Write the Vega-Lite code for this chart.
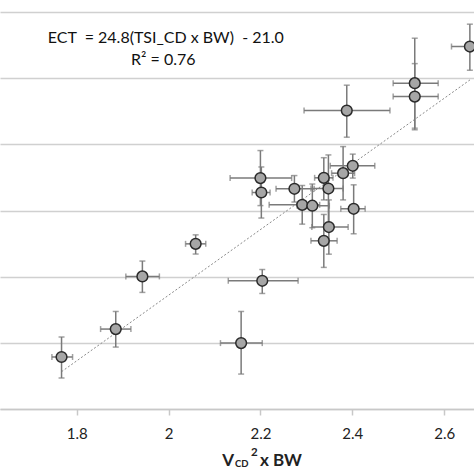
{
  "$schema": "https://vega.github.io/schema/vega-lite/v6.json",
  "autosize": "none",
  "width": 474,
  "height": 397,
  "padding": {"left": 0, "top": 12, "right": 0, "bottom": 65},
  "background": "white",
  "config": {"view": {"stroke": null}, "font": "Lato"},
  "datasets": {
    "pts": [
      {"x": 1.767, "y": 23.93, "xlo": 1.746, "xhi": 1.791, "ylo": 22.34, "yhi": 25.44},
      {"x": 1.885, "y": 26.04, "xlo": 1.852, "xhi": 1.918, "ylo": 24.68, "yhi": 27.37},
      {"x": 1.943, "y": 30.02, "xlo": 1.907, "xhi": 1.98, "ylo": 28.81, "yhi": 31.18},
      {"x": 2.059, "y": 32.48, "xlo": 2.037, "xhi": 2.081, "ylo": 31.71, "yhi": 33.16},
      {"x": 2.204, "y": 29.69, "xlo": 2.13, "xhi": 2.282, "ylo": 28.73, "yhi": 30.54},
      {"x": 2.158, "y": 24.98, "xlo": 2.113, "xhi": 2.204, "ylo": 22.64, "yhi": 27.37},
      {"x": 2.388, "y": 42.55, "xlo": 2.295, "xhi": 2.482, "ylo": 40.54, "yhi": 44.47},
      {"x": 2.536, "y": 44.62, "xlo": 2.489, "xhi": 2.587, "ylo": 41.22, "yhi": 48.02},
      {"x": 2.536, "y": 43.61, "xlo": 2.489, "xhi": 2.587, "ylo": 41.1, "yhi": 46.1},
      {"x": 2.656, "y": 47.39, "xlo": 2.616, "xhi": 2.696, "ylo": 45.6, "yhi": 49.08},
      {"x": 2.2, "y": 37.45, "xlo": 2.134, "xhi": 2.268, "ylo": 35.37, "yhi": 39.53},
      {"x": 2.202, "y": 36.36, "xlo": 2.182, "xhi": 2.221, "ylo": 34.43, "yhi": 38.29},
      {"x": 2.274, "y": 36.64, "xlo": 2.234, "xhi": 2.317, "ylo": 35.64, "yhi": 37.64},
      {"x": 2.291, "y": 35.43, "xlo": 2.219, "xhi": 2.329, "ylo": 33.97, "yhi": 36.89},
      {"x": 2.313, "y": 35.36, "xlo": 2.28, "xhi": 2.35, "ylo": 33.7, "yhi": 37.0},
      {"x": 2.338, "y": 37.47, "xlo": 2.318, "xhi": 2.358, "ylo": 35.8, "yhi": 38.99},
      {"x": 2.348, "y": 36.66, "xlo": 2.31, "xhi": 2.38, "ylo": 34.1, "yhi": 39.2},
      {"x": 2.349, "y": 33.75, "xlo": 2.312, "xhi": 2.391, "ylo": 31.7, "yhi": 35.8},
      {"x": 2.338, "y": 32.71, "xlo": 2.31, "xhi": 2.367, "ylo": 30.7, "yhi": 34.7},
      {"x": 2.38, "y": 37.82, "xlo": 2.355, "xhi": 2.405, "ylo": 35.8, "yhi": 39.83},
      {"x": 2.401, "y": 38.38, "xlo": 2.352, "xhi": 2.449, "ylo": 37.45, "yhi": 39.26},
      {"x": 2.403, "y": 35.13, "xlo": 2.375, "xhi": 2.428, "ylo": 33.24, "yhi": 36.94}
    ],
    "fit": [
      {"x": 1.767, "y": 22.82},
      {"x": 2.657, "y": 44.89}
    ],
    "eq": [
      {"x": 1.994, "y": 48.06, "t": "ECT\u00a0\u00a0= 24.8(TSI_CD x BW)\u00a0\u00a0- 21.0"},
      {"x": 1.9885, "y": 46.37, "t": "R² = 0.76"}
    ],
    "ttl_big": [
      {"x": 2.117, "y": 15.72, "t": "V"},
      {"x": 2.1991, "y": 15.72, "t": "x BW"}
    ],
    "ttl_sub": [
      {"x": 2.1448, "y": 15.62, "t": "CD"}
    ],
    "ttl_sup": [
      {"x": 2.1795, "y": 16.45, "t": "2"}
    ]
  },
  "encoding": {
    "x": {"field": "x", "type": "quantitative",
      "scale": {"domain": [1.633, 2.665], "nice": false, "zero": false},
      "axis": {"values": [1.8, 2, 2.2, 2.4, 2.6], "format": "~g", "title": null, "grid": false,
        "domainColor": "#c8c8c8", "domainWidth": 1.5, "tickColor": "#c8c8c8", "tickWidth": 1.5, "tickSize": 6,
        "labelFontSize": 15, "labelColor": "#222", "labelPadding": 11, "labelFont": "Lato"}},
    "y": {"field": "y", "type": "quantitative",
      "scale": {"domain": [20, 50], "nice": false, "zero": false},
      "axis": {"values": [20, 25, 30, 35, 40, 45, 50], "labels": false, "ticks": false, "domain": false, "title": null,
        "grid": true, "gridColor": "#d0d0d0", "gridWidth": 1.5}}
  },
  "layer": [
    {"data": {"name": "fit"}, "mark": {"type": "line", "color": "#8a8a8a", "strokeWidth": 1, "strokeDash": [2, 2]}, "encoding": {}},
    {"data": {"name": "pts"}, "mark": {"type": "errorbar", "ticks": {"size": 6}, "color": "#7a7a7a", "thickness": 1.5},
      "encoding": {"y": {"field": "ylo", "type": "quantitative"}, "y2": {"field": "yhi"}}},
    {"data": {"name": "pts"}, "mark": {"type": "errorbar", "ticks": {"size": 6}, "color": "#7a7a7a", "thickness": 1.5},
      "encoding": {"x": {"field": "xlo", "type": "quantitative"}, "x2": {"field": "xhi"}}},
    {"data": {"name": "pts"}, "mark": {"type": "point", "shape": "circle", "filled": true, "fill": "#a6a6a6", "stroke": "#2a2a2a", "strokeWidth": 1.5, "size": 115, "opacity": 1}},
    {"data": {"name": "eq"}, "mark": {"type": "text", "fontSize": 16, "font": "Lato", "color": "#111", "align": "center", "baseline": "middle"},
      "encoding": {"text": {"field": "t"}}},
    {"data": {"name": "ttl_big"}, "mark": {"type": "text", "fontSize": 17, "fontWeight": "bold", "font": "Lato", "color": "#222", "align": "left", "baseline": "alphabetic"},
      "encoding": {"text": {"field": "t"}}},
    {"data": {"name": "ttl_sub"}, "mark": {"type": "text", "fontSize": 9.5, "fontWeight": "bold", "font": "Lato", "color": "#222", "align": "left", "baseline": "alphabetic"},
      "encoding": {"text": {"field": "t"}}},
    {"data": {"name": "ttl_sup"}, "mark": {"type": "text", "fontSize": 11.5, "fontWeight": "bold", "font": "Lato", "color": "#222", "align": "left", "baseline": "alphabetic"},
      "encoding": {"text": {"field": "t"}}}
  ]
}
